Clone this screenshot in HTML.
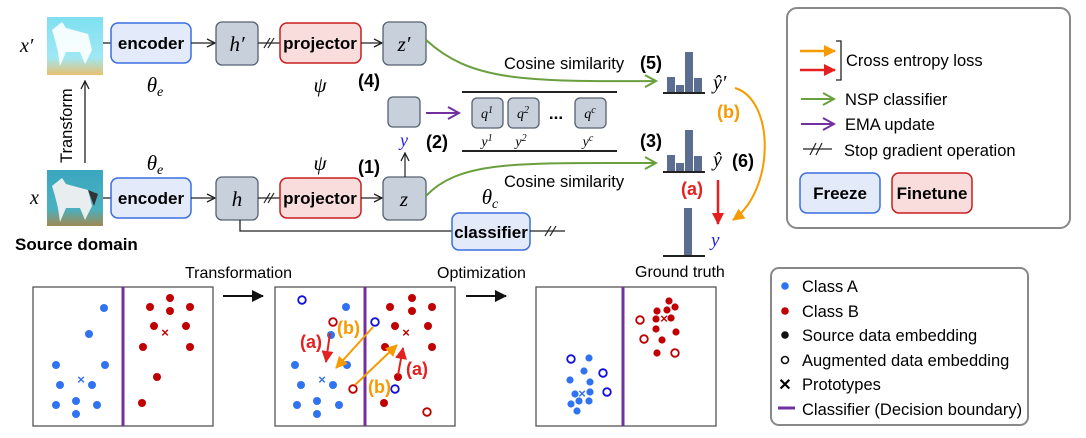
<!DOCTYPE html>
<html><head><meta charset="utf-8"><style>
body{margin:0;background:#fff}
svg{display:block}
text{font-family:"Liberation Sans",sans-serif}
.b{font-weight:bold}
.m{font-family:"Liberation Serif",serif;font-style:italic}
</style></head><body>
<svg width="1086" height="438" viewBox="0 0 1086 438" xmlns="http://www.w3.org/2000/svg">
<defs>
<marker id="ah" markerWidth="10" markerHeight="10" refX="9" refY="5" orient="auto" markerUnits="userSpaceOnUse"><path d="M1,1 L9,5 L1,9" fill="none" stroke="#222" stroke-width="1.3"/></marker>
<marker id="ag" markerWidth="14" markerHeight="14" refX="12" refY="7" orient="auto" markerUnits="userSpaceOnUse"><path d="M1,1 L12,7 L1,13" fill="none" stroke="#6a9f3e" stroke-width="2"/></marker>
<marker id="ap" markerWidth="14" markerHeight="14" refX="12" refY="7" orient="auto" markerUnits="userSpaceOnUse"><path d="M1,1 L12,7 L1,13" fill="none" stroke="#7030a0" stroke-width="2"/></marker>
<marker id="ab" markerWidth="12" markerHeight="12" refX="11" refY="6" orient="auto" markerUnits="userSpaceOnUse"><path d="M0,0 L12,6 L0,12z" fill="#111"/></marker>
<marker id="ar" markerWidth="12" markerHeight="12" refX="11" refY="6" orient="auto" markerUnits="userSpaceOnUse"><path d="M0,0 L12,6 L0,12z" fill="#e52020"/></marker>
<marker id="ao" markerWidth="12" markerHeight="12" refX="11" refY="6" orient="auto" markerUnits="userSpaceOnUse"><path d="M0,0 L12,6 L0,12z" fill="#f79a00"/></marker>
<linearGradient id="g1" x1="0" y1="0" x2="0" y2="1"><stop offset="0" stop-color="#7fe0f0"/><stop offset="0.7" stop-color="#9fe8f5"/><stop offset="1" stop-color="#e8c070"/></linearGradient>
<linearGradient id="g2" x1="0" y1="0" x2="0" y2="1"><stop offset="0" stop-color="#3aa7c0"/><stop offset="0.7" stop-color="#4ab0c0"/><stop offset="1" stop-color="#a08850"/></linearGradient>
</defs>

<rect x="47" y="17" width="56" height="58" fill="url(#g1)"/>
<path d="M52,30 L62,22 L66,28 L88,34 L92,50 L85,64 L80,52 L66,52 L60,66 L58,52 L55,40z" fill="#fff" opacity="0.9"/>
<rect x="47" y="170" width="56" height="56" fill="url(#g2)"/>
<path d="M52,186 L62,178 L66,184 L88,190 L92,206 L85,220 L80,208 L66,208 L60,222 L58,208 L55,196z" fill="#e8eef0"/>
<path d="M88,190 L98,194 L94,206z" fill="#333"/>

<text x="20" y="52" class="m" font-size="20">x′</text>
<text x="30" y="204" class="m" font-size="20">x</text>
<text x="72" y="163" font-size="16.5" transform="rotate(-90 72 163)">Transform</text>
<line x1="85" y1="163" x2="85" y2="81" stroke="#222" stroke-width="1.3" marker-end="url(#ah)"/>
<text x="15" y="250" class="b" font-size="17">Source domain</text>

<line x1="103" y1="43" x2="111" y2="43" stroke="#222" stroke-width="1.3"/>
<rect x="111" y="23" width="80" height="40" rx="7" fill="#e3ebfb" stroke="#3a6fe0" stroke-width="1.5"/>
<text x="151" y="49" class="b" font-size="17" text-anchor="middle">encoder</text>
<line x1="191" y1="43" x2="215" y2="43" stroke="#222" stroke-width="1.3" marker-end="url(#ah)"/>
<rect x="216" y="22" width="42" height="43" rx="6" fill="#c8d0dc" stroke="#556070" stroke-width="1.3"/>
<text x="237" y="51" class="m" font-size="21" text-anchor="middle">h′</text>
<line x1="258" y1="43" x2="280" y2="43" stroke="#222" stroke-width="1.3"/>
<path d="M264,48 L270,38 M268,48 L274,38" stroke="#222" stroke-width="1.2"/>
<rect x="280" y="23" width="81" height="40" rx="7" fill="#f9dcdc" stroke="#c81f1f" stroke-width="1.5"/>
<text x="320" y="49" class="b" font-size="17" text-anchor="middle">projector</text>
<line x1="361" y1="43" x2="382" y2="43" stroke="#222" stroke-width="1.3" marker-end="url(#ah)"/>
<rect x="383" y="22" width="43" height="43" rx="6" fill="#c8d0dc" stroke="#556070" stroke-width="1.3"/>
<text x="404" y="51" class="m" font-size="21" text-anchor="middle">z′</text>
<text x="155" y="92" class="m" font-size="21" text-anchor="middle">θ<tspan font-size="14" dy="4">e</tspan></text>
<text x="320" y="92" class="m" font-size="21" text-anchor="middle">ψ</text>
<text x="358" y="87" class="b" font-size="18">(4)</text>

<line x1="103" y1="198" x2="111" y2="198" stroke="#222" stroke-width="1.3"/>
<rect x="111" y="178" width="80" height="40" rx="7" fill="#e3ebfb" stroke="#3a6fe0" stroke-width="1.5"/>
<text x="151" y="204" class="b" font-size="17" text-anchor="middle">encoder</text>
<line x1="191" y1="198" x2="215" y2="198" stroke="#222" stroke-width="1.3" marker-end="url(#ah)"/>
<rect x="216" y="177" width="42" height="43" rx="6" fill="#c8d0dc" stroke="#556070" stroke-width="1.3"/>
<text x="237" y="206" class="m" font-size="21" text-anchor="middle">h</text>
<line x1="258" y1="198" x2="280" y2="198" stroke="#222" stroke-width="1.3"/>
<path d="M264,203 L270,193 M268,203 L274,193" stroke="#222" stroke-width="1.2"/>
<rect x="280" y="178" width="81" height="40" rx="7" fill="#f9dcdc" stroke="#c81f1f" stroke-width="1.5"/>
<text x="320" y="204" class="b" font-size="17" text-anchor="middle">projector</text>
<line x1="361" y1="198" x2="382" y2="198" stroke="#222" stroke-width="1.3" marker-end="url(#ah)"/>
<rect x="383" y="177" width="43" height="43" rx="6" fill="#c8d0dc" stroke="#556070" stroke-width="1.3"/>
<text x="404" y="206" class="m" font-size="21" text-anchor="middle">z</text>
<text x="155" y="170" class="m" font-size="21" text-anchor="middle">θ<tspan font-size="14" dy="4">e</tspan></text>
<text x="320" y="170" class="m" font-size="21" text-anchor="middle">ψ</text>
<text x="358" y="173" class="b" font-size="18">(1)</text>

<polyline points="240,220 240,231 452,231" fill="none" stroke="#222" stroke-width="1.3"/>
<rect x="452" y="213" width="78" height="37" rx="7" fill="#e3ebfb" stroke="#3a6fe0" stroke-width="1.5"/>
<text x="491" y="238" class="b" font-size="17" text-anchor="middle">classifier</text>
<line x1="530" y1="231" x2="565" y2="231" stroke="#222" stroke-width="1.3"/>
<path d="M545,236 L551,226 M550,236 L556,226" stroke="#222" stroke-width="1.2"/>
<text x="490" y="204" class="m" font-size="21" text-anchor="middle">θ<tspan font-size="14" dy="4">c</tspan></text>

<line x1="405" y1="177" x2="405" y2="153" stroke="#222" stroke-width="1.2" marker-end="url(#ah)"/>
<rect x="388" y="97" width="32" height="30" rx="5" fill="#c8d0dc" stroke="#556070" stroke-width="1.3"/>
<text x="404" y="146" class="m" font-size="18" fill="#2020e0" text-anchor="middle">y</text>
<text x="426" y="148" class="b" font-size="18">(2)</text>
<line x1="426" y1="113" x2="459" y2="113" stroke="#7030a0" stroke-width="2" marker-end="url(#ap)"/>
<line x1="462" y1="92" x2="617" y2="92" stroke="#222" stroke-width="2"/>
<line x1="462" y1="151" x2="617" y2="151" stroke="#222" stroke-width="2"/>
<rect x="472" y="98" width="31" height="30" rx="5" fill="#c8d0dc" stroke="#556070" stroke-width="1.3"/>
<rect x="508" y="98" width="31" height="30" rx="5" fill="#c8d0dc" stroke="#556070" stroke-width="1.3"/>
<rect x="575" y="98" width="31" height="30" rx="5" fill="#c8d0dc" stroke="#556070" stroke-width="1.3"/>
<text x="487" y="118" class="m" font-size="14" text-anchor="middle">q<tspan font-size="10" dy="-5">1</tspan></text>
<text x="523" y="118" class="m" font-size="14" text-anchor="middle">q<tspan font-size="10" dy="-5">2</tspan></text>
<text x="590" y="118" class="m" font-size="14" text-anchor="middle">q<tspan font-size="10" dy="-5">c</tspan></text>
<text x="556" y="119" class="b" font-size="17" text-anchor="middle">...</text>
<text x="487" y="146" class="m" font-size="14" text-anchor="middle">y<tspan font-size="10" dy="-5">1</tspan></text>
<text x="521" y="146" class="m" font-size="14" text-anchor="middle">y<tspan font-size="10" dy="-5">2</tspan></text>
<text x="588" y="146" class="m" font-size="14" text-anchor="middle">y<tspan font-size="10" dy="-5">c</tspan></text>

<path d="M426,40 C470,80 520,82 656,81" fill="none" stroke="#6a9f3e" stroke-width="2" marker-end="url(#ag)"/>
<path d="M426,196 C460,160 520,163 656,163" fill="none" stroke="#6a9f3e" stroke-width="2" marker-end="url(#ag)"/>
<text x="504" y="69" font-size="16.5">Cosine similarity</text>
<text x="504" y="187" font-size="16.5">Cosine similarity</text>
<text x="640" y="69" class="b" font-size="18">(5)</text>
<text x="640" y="147" class="b" font-size="18">(3)</text>

<g fill="#5b6d90">
<rect x="667" y="77" width="8" height="15"/><rect x="676" y="85" width="8" height="7"/><rect x="685" y="52" width="8" height="40"/><rect x="694" y="78" width="8" height="14"/>
<rect x="667" y="155" width="8" height="17"/><rect x="676" y="163" width="8" height="9"/><rect x="685" y="130" width="8" height="42"/><rect x="694" y="156" width="8" height="16"/>
<rect x="684" y="208" width="8" height="48"/>
</g>
<g stroke="#222" stroke-width="2"><line x1="663" y1="93" x2="705" y2="93"/><line x1="663" y1="172" x2="705" y2="172"/><line x1="663" y1="256" x2="705" y2="256"/></g>
<text x="713" y="89" class="m" font-size="20">ŷ′</text>
<text x="713" y="166" class="m" font-size="20">ŷ</text>
<text x="732" y="167" class="b" font-size="18">(6)</text>
<text x="711" y="246" class="m" font-size="19" fill="#2020e0">y</text>
<text x="635" y="277" font-size="16">Ground truth</text>
<line x1="718" y1="180" x2="718" y2="224" stroke="#e52020" stroke-width="2.5" marker-end="url(#ar)"/>
<text x="681" y="195" class="b" font-size="18" fill="#e52020">(a)</text>
<path d="M735,88 C775,100 775,190 733,220" fill="none" stroke="#f79a00" stroke-width="2" marker-end="url(#ao)"/>
<text x="717" y="118" class="b" font-size="18" fill="#f79a00">(b)</text>

<rect x="787" y="8" width="283" height="220" rx="10" fill="#fff" stroke="#888" stroke-width="2"/>
<line x1="800" y1="51" x2="835" y2="51" stroke="#f79a00" stroke-width="2.5" marker-end="url(#ao)"/>
<line x1="800" y1="70" x2="835" y2="70" stroke="#e52020" stroke-width="2.5" marker-end="url(#ar)"/>
<polyline points="836,41 841,41 841,80 836,80" fill="none" stroke="#222" stroke-width="1.3"/>
<text x="846" y="66" font-size="16.5">Cross entropy loss</text>
<line x1="801" y1="99" x2="834" y2="99" stroke="#6a9f3e" stroke-width="2" marker-end="url(#ag)"/>
<text x="845" y="105" font-size="16.5">NSP classifier</text>
<line x1="801" y1="124" x2="834" y2="124" stroke="#7030a0" stroke-width="2" marker-end="url(#ap)"/>
<text x="845" y="130" font-size="16.5">EMA update</text>
<line x1="803" y1="149" x2="832" y2="149" stroke="#222" stroke-width="1.3"/>
<path d="M810,155 L816,143 M816,155 L822,143" stroke="#222" stroke-width="1.2"/>
<text x="844" y="156" font-size="16.5">Stop gradient operation</text>
<rect x="800" y="173" width="80" height="40" rx="7" fill="#e3ebfb" stroke="#3a6fe0" stroke-width="1.5"/>
<text x="840" y="199" class="b" font-size="17" text-anchor="middle">Freeze</text>
<rect x="892" y="173" width="80" height="40" rx="7" fill="#f9dcdc" stroke="#c81f1f" stroke-width="1.5"/>
<text x="932" y="199" class="b" font-size="17" text-anchor="middle">Finetune</text>

<g fill="#fff" stroke="#555" stroke-width="1.3">
<rect x="33" y="287" width="180" height="139"/><rect x="275" y="287" width="180" height="139"/><rect x="536" y="287" width="180" height="139"/>
</g>
<g stroke="#7030a0" stroke-width="3"><line x1="123" y1="287" x2="123" y2="426"/><line x1="365" y1="287" x2="365" y2="426"/><line x1="623" y1="287" x2="623" y2="426"/></g>
<line x1="223" y1="296" x2="263" y2="296" stroke="#111" stroke-width="2" marker-end="url(#ab)"/>
<line x1="466" y1="296" x2="506" y2="296" stroke="#111" stroke-width="2" marker-end="url(#ab)"/>
<text x="185" y="278" font-size="16">Transformation</text>
<text x="437" y="278" font-size="16">Optimization</text>

<g fill="#2f73f0">
<circle cx="104" cy="308" r="4"/><circle cx="89" cy="334" r="4"/><circle cx="56" cy="365" r="4"/><circle cx="105" cy="365" r="4"/><circle cx="60" cy="385" r="4"/><circle cx="92" cy="385" r="4"/><circle cx="56" cy="405" r="4"/><circle cx="76" cy="401" r="4"/><circle cx="97" cy="405" r="4"/><circle cx="76" cy="414" r="4"/>
<circle cx="346" cy="307" r="4"/><circle cx="331" cy="335" r="4"/><circle cx="295" cy="365" r="4"/><circle cx="347" cy="365" r="4"/><circle cx="301" cy="385" r="4"/><circle cx="333" cy="385" r="4"/><circle cx="297" cy="405" r="4"/><circle cx="317" cy="401" r="4"/><circle cx="339" cy="405" r="4"/><circle cx="317" cy="414" r="4"/>
<circle cx="589" cy="358" r="3.6"/><circle cx="584" cy="371" r="3.6"/><circle cx="570" cy="380" r="3.6"/><circle cx="590" cy="382" r="3.6"/><circle cx="575" cy="394" r="3.6"/><circle cx="590" cy="392" r="3.6"/><circle cx="571" cy="404" r="3.6"/><circle cx="579" cy="401" r="3.6"/><circle cx="589" cy="401" r="3.6"/><circle cx="577" cy="411" r="3.6"/>
</g>
<g fill="#c00000">
<circle cx="150" cy="307" r="4"/><circle cx="170" cy="298" r="4"/><circle cx="170" cy="311" r="4"/><circle cx="190" cy="307" r="4"/><circle cx="154" cy="326" r="4"/><circle cx="186" cy="326" r="4"/><circle cx="143" cy="347" r="4"/><circle cx="190" cy="347" r="4"/><circle cx="157" cy="377" r="4"/><circle cx="142" cy="403" r="4"/>
<circle cx="390" cy="307" r="4"/><circle cx="412" cy="298" r="4"/><circle cx="412" cy="311" r="4"/><circle cx="432" cy="307" r="4"/><circle cx="395" cy="326" r="4"/><circle cx="428" cy="326" r="4"/><circle cx="385" cy="347" r="4"/><circle cx="432" cy="347" r="4"/><circle cx="398" cy="377" r="4"/><circle cx="384" cy="403" r="4"/>
<circle cx="669" cy="301" r="3.6"/><circle cx="657" cy="311" r="3.6"/><circle cx="667" cy="310" r="3.6"/><circle cx="675" cy="307" r="3.6"/><circle cx="656" cy="319" r="3.6"/><circle cx="671" cy="318" r="3.6"/><circle cx="656" cy="329" r="3.6"/><circle cx="676" cy="332" r="3.6"/><circle cx="662" cy="340" r="3.6"/><circle cx="657" cy="353" r="3.6"/>
</g>
<g fill="none" stroke="#1010e0" stroke-width="1.8">
<circle cx="302" cy="300" r="3.8"/><circle cx="375" cy="322" r="3.8"/><circle cx="395" cy="389" r="3.8"/>
<circle cx="571" cy="359" r="3.8"/><circle cx="603" cy="373" r="3.8"/><circle cx="607" cy="392" r="3.8"/>
</g>
<g fill="none" stroke="#c00000" stroke-width="1.8">
<circle cx="333" cy="322" r="3.8"/><circle cx="353" cy="389" r="3.8"/><circle cx="427" cy="412" r="3.8"/>
<circle cx="640" cy="320" r="3.8"/><circle cx="644" cy="339" r="3.8"/><circle cx="675" cy="353" r="3.8"/>
</g>
<g font-size="13" font-weight="bold" text-anchor="middle">
<text x="81" y="384" fill="#2f73f0">×</text><text x="165" y="337" fill="#c00000">×</text>
<text x="322" y="384" fill="#2f73f0">×</text><text x="406" y="337" fill="#c00000">×</text>
<text x="582" y="398" fill="#2f73f0">×</text><text x="664" y="323" fill="#c00000">×</text>
</g>
<line x1="330" y1="333" x2="326" y2="362" stroke="#e52020" stroke-width="2" marker-end="url(#ar)"/>
<line x1="398" y1="375" x2="403" y2="348" stroke="#e52020" stroke-width="2" marker-end="url(#ar)"/>
<line x1="373" y1="327" x2="336" y2="368" stroke="#f79a00" stroke-width="2" marker-end="url(#ao)"/>
<line x1="355" y1="385" x2="397" y2="345" stroke="#f79a00" stroke-width="2" marker-end="url(#ao)"/>
<text x="300" y="348" class="b" font-size="18" fill="#e52020">(a)</text>
<text x="337" y="334" class="b" font-size="18" fill="#f79a00">(b)</text>
<text x="368" y="393" class="b" font-size="18" fill="#f79a00">(b)</text>
<text x="406" y="375" class="b" font-size="18" fill="#e52020">(a)</text>

<rect x="771" y="268" width="257" height="157" rx="8" fill="#fff" stroke="#888" stroke-width="2"/>
<circle cx="785" cy="286" r="3.8" fill="#2f73f0"/>
<circle cx="785" cy="311" r="3.8" fill="#c00000"/>
<circle cx="785" cy="335" r="3.8" fill="#111"/>
<circle cx="785" cy="360" r="3.5" fill="none" stroke="#111" stroke-width="1.6"/>
<text x="785" y="390" font-size="16" font-weight="bold" text-anchor="middle">✕</text>
<line x1="778" y1="408" x2="795" y2="408" stroke="#7030a0" stroke-width="3"/>
<g font-size="16.5">
<text x="802" y="292">Class A</text><text x="802" y="317">Class B</text><text x="802" y="341">Source data embedding</text><text x="802" y="366">Augmented data embedding</text><text x="802" y="390">Prototypes</text><text x="802" y="415">Classifier (Decision boundary)</text>
</g>
</svg>
</body></html>
